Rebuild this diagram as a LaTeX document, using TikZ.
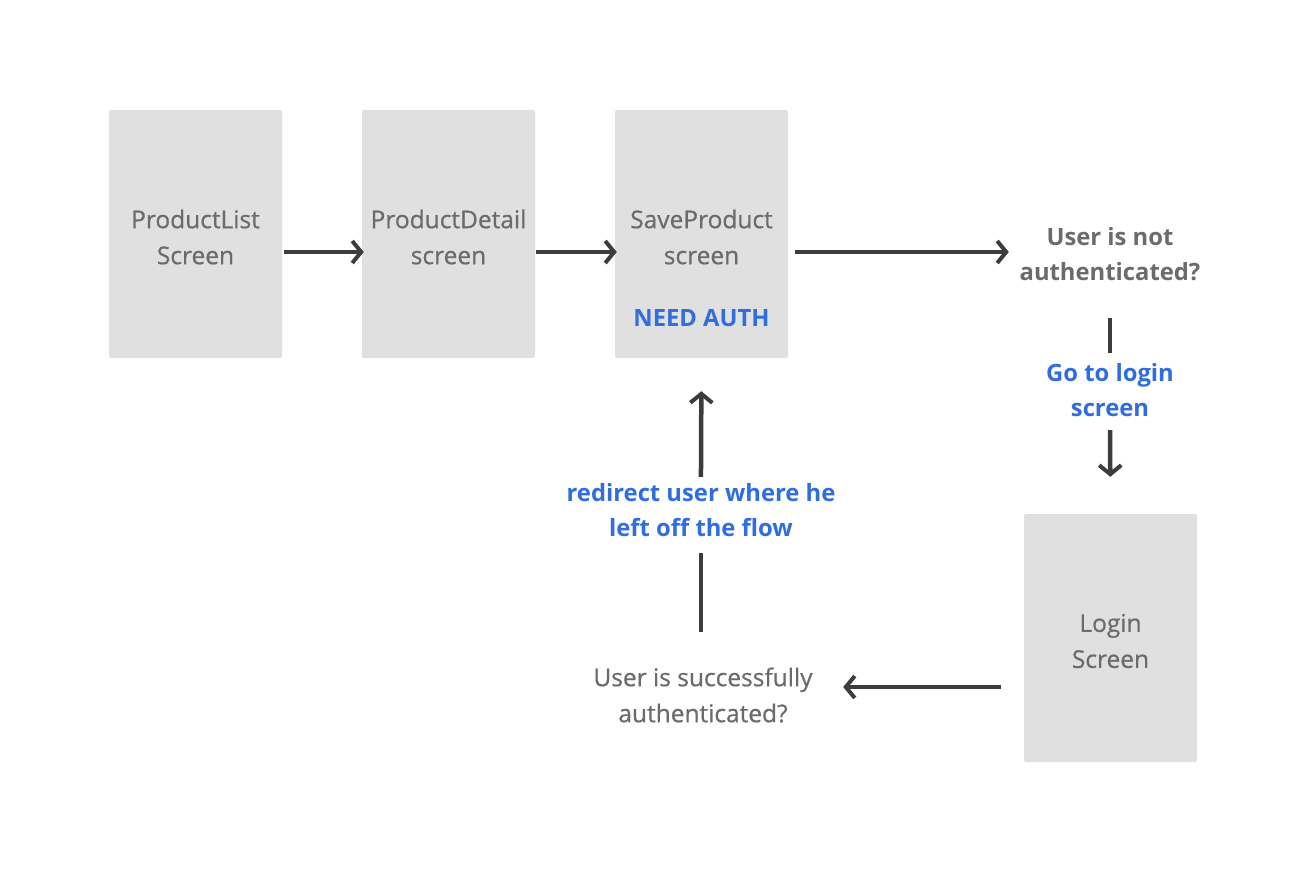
\documentclass[tikz,border=0pt]{standalone}
\usepackage{fontspec}
\setmainfont{Open Sans}
\newfontfamily\semifont{Open Sans}[FakeBold=0.6]
\usetikzlibrary{arrows.meta}
\definecolor{boxfill}{HTML}{E0E0E0}
\definecolor{txtgray}{HTML}{6B6B6B}
\definecolor{arrowgray}{HTML}{3C3C3C}
\definecolor{linkblue}{HTML}{2F6DE1}
\tikzset{
  screen/.style={fill=boxfill, rounded corners=2pt, minimum width=173pt, minimum height=248pt, inner sep=0pt},
  graytxt/.style={text=txtgray, font=\semifont\fontsize{24.5}{36}\selectfont, align=center, inner sep=0pt},
  boldgray/.style={text=txtgray, font=\fontsize{23.8}{35}\selectfont\bfseries, align=center, inner sep=0pt},
  bluetxt/.style={text=linkblue, font=\fontsize{23.8}{35}\selectfont\bfseries, align=center, inner sep=0pt},
  flow/.style={draw=arrowgray, line width=4.5pt, -{Straight Barb[length=9pt,width=22pt,line width=4pt]}},
  seg/.style={draw=arrowgray, line width=4.5pt}
}
\begin{document}
\begin{tikzpicture}[x=1pt,y=-1pt]
\useasboundingbox (0,0) rectangle (1293,875);
% screens
\node[screen] (b1) at (195.5,234) {};
\node[screen] (b2) at (448.5,234) {};
\node[screen] (b3) at (701.5,234) {};
\node[screen] (login) at (1110.5,638) {};
% texts inside screens
\node[graytxt] (t1) at (195.5,237) {ProductList\\Screen};
\node[graytxt] (t2) at (448.5,237) {ProductDetail\\screen};
\node[graytxt] (t3) at (701.5,237) {SaveProduct\\screen};
\node[bluetxt] (auth) at (701.5,318) {NEED AUTH};
\node[graytxt] (t4) at (1110.5,641) {Login\\Screen};
% question / label nodes
\node[boldgray, minimum width=202pt, minimum height=128pt] (q1) at (1110,254) {User is not\\authenticated?};
\node[bluetxt, minimum height=74pt] (lbl1) at (1110,390) {Go to login\\screen};
\node[graytxt, minimum width=280pt, minimum height=126pt] (q2) at (703,695) {User is successfully\\authenticated?};
\node[bluetxt, minimum height=86pt] (lbl2) at (701,510) {redirect user where he\\left off the flow};
% connectors
\draw[flow, shorten <=2pt, shorten >=-2pt] ([yshift=-18pt]b1.east) -- ([yshift=-18pt]b2.west);
\draw[flow, shorten <=1pt, shorten >=-2pt] ([yshift=-18pt]b2.east) -- ([yshift=-18pt]b3.west);
\draw[flow, shorten <=7pt] ([yshift=-18pt]b3.east) -- ([yshift=-18pt]b3.east -| q1.west);
\draw[seg] (q1.south) -- (lbl1.north);
\draw[flow, shorten <=3pt, shorten >=37pt] (lbl1.south) -- (login.north);
\draw[flow, shorten <=23pt] ([yshift=-49pt]login.west) -- ([yshift=-49pt]login.west -| q2.east);
\draw[seg] (q2.north -| lbl2.south) -- (lbl2.south);
\draw[flow, shorten <=-10pt, shorten >=33pt] (lbl2.north) -- (b3.south);
\end{tikzpicture}
\end{document}
